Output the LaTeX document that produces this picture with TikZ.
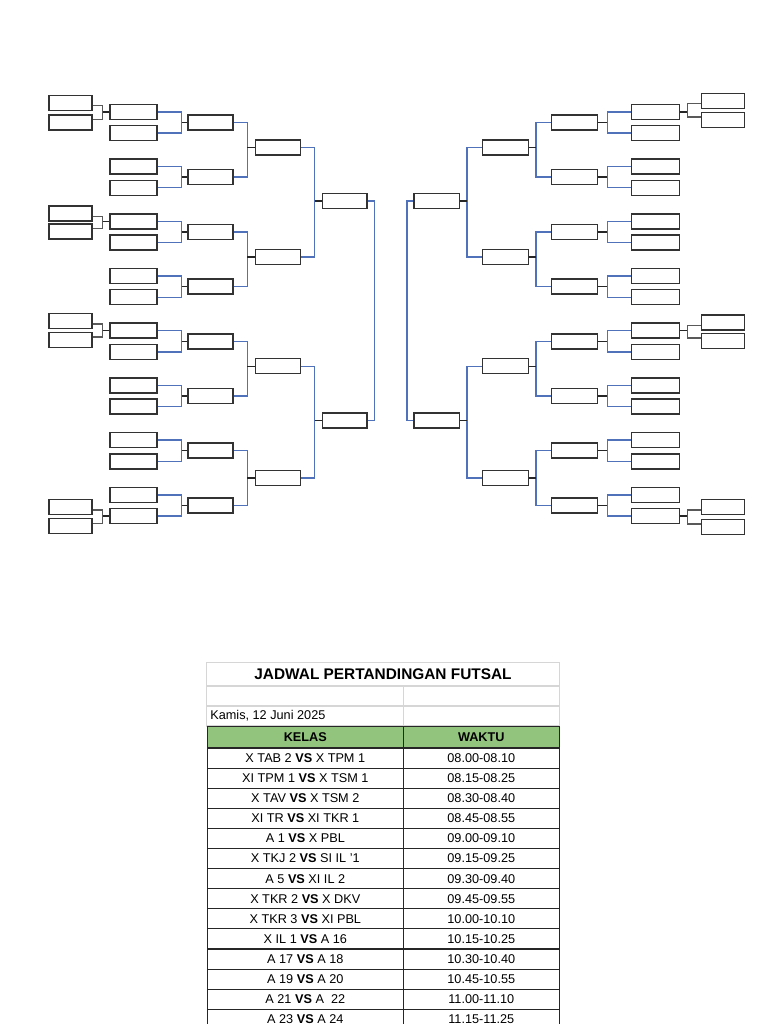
\documentclass[tikz,border=0pt]{standalone}
\usepackage{fontspec}
\setmainfont{Liberation Sans}
\usetikzlibrary{calc}
\definecolor{linkblue}{HTML}{4F72BA}
\definecolor{headgreen}{HTML}{93C47D}
\definecolor{gridgray}{HTML}{D6D6D6}
\tikzset{
  slot/.style={draw=black!80,line width=1.5pt,minimum height=15pt,inner sep=0pt},
  arm/.style={draw=linkblue,line width=1.4pt},
  stub/.style={draw=black!85,line width=1.4pt},
  prearm/.style={draw=black!65,line width=1.4pt},
  tabfont/.style={font=\fontsize{12.7}{14}\selectfont},
  cell/.style={tabfont,draw=black!85,line width=1.1pt,minimum height=20.1pt,inner sep=0pt},
  graycell/.style={tabfont,draw=gridgray,line width=1.1pt,minimum height=20pt,inner sep=0pt},
  headcell/.style={cell,fill=headgreen,minimum height=21.7pt,font=\fontsize{12.7}{14}\selectfont\bfseries}
}

\begin{document}
\begin{tikzpicture}[x=1pt,y=-1pt]
  \clip (0,0) rectangle (768,1024);
  \fill[white] (0,0) rectangle (768,1024);

  % first and second round, both halves
  \foreach \k in {0,...,7}{
    \pgfmathsetmacro\yc{122.5+54.7*\k}
    \node[slot,minimum width=47pt] (L1a-\k) at (133.6,\yc-10.6) {};
    \node[slot,minimum width=47pt] (L1b-\k) at (133.6,\yc+10.6) {};
    \node[slot,minimum width=45pt] (L2-\k) at (210.5,\yc) {};
    \coordinate (LF1-\k) at (181.7,\yc);
    \draw[arm] (L1a-\k.east) -| (LF1-\k) |- (L1b-\k.east);
    \draw[stub] (LF1-\k) -- (L2-\k.west);
    \node[slot,minimum width=47.6pt] (R1a-\k) at (655.5,\yc-10.6) {};
    \node[slot,minimum width=47.6pt] (R1b-\k) at (655.5,\yc+10.6) {};
    \node[slot,minimum width=45.8pt] (R2-\k) at (574.6,\yc) {};
    \coordinate (RF1-\k) at (607.3,\yc);
    \draw[arm] (R1a-\k.west) -| (RF1-\k) |- (R1b-\k.west);
    \draw[stub] (RF1-\k) -- (R2-\k.east);
  }

  % third round
  \foreach \y [count=\j from 0] in {147.5,257,366.2,477.8}{
    \pgfmathtruncatemacro\ta{2*\j}
    \pgfmathtruncatemacro\tb{2*\j+1}
    \node[slot,minimum width=45pt] (L3-\j) at (278,\y) {};
    \coordinate (LF2-\j) at (247.3,\y);
    \draw[arm] (L2-\ta.east) -| (LF2-\j) |- (L2-\tb.east);
    \draw[stub] (LF2-\j) -- (L3-\j.west);
    \node[slot,minimum width=46pt] (R3-\j) at (505.7,\y) {};
    \coordinate (RF2-\j) at (536,\y);
    \draw[arm] (R2-\ta.west) -| (RF2-\j) |- (R2-\tb.west);
    \draw[stub] (RF2-\j) -- (R3-\j.east);
  }

  % semifinals
  \foreach \y [count=\j from 0] in {201,420.5}{
    \pgfmathtruncatemacro\ta{2*\j}
    \pgfmathtruncatemacro\tb{2*\j+1}
    \node[slot,minimum width=44.5pt] (L4-\j) at (344.5,\y) {};
    \coordinate (LF3-\j) at (314.5,\y);
    \draw[arm] (L3-\ta.east) -| (LF3-\j) |- (L3-\tb.east);
    \draw[stub] (LF3-\j) -- (L4-\j.west);
    \node[slot,minimum width=45.5pt] (R4-\j) at (436.5,\y) {};
    \coordinate (RF3-\j) at (467,\y);
    \draw[arm] (R3-\ta.west) -| (RF3-\j) |- (R3-\tb.west);
    \draw[stub] (RF3-\j) -- (R4-\j.east);
  }
  \coordinate (LF4) at (374.5,310);
  \draw[arm] (L4-0.east) -| (LF4) |- (L4-1.east);
  \coordinate (RF4) at (407,310);
  \draw[arm] (R4-0.west) -| (RF4) |- (R4-1.west);

  % preliminary pairs
  \foreach \tgt/\ya/\yb [count=\n] in {L1a-0/102.8/122.3,L1a-2/213.3/231.6,L1a-4/320.8/340,L1b-7/506.8/526.2}{
    \node[slot,minimum width=43pt] (PLa-\n) at (70.3,\ya) {};
    \node[slot,minimum width=43pt] (PLb-\n) at (70.3,\yb) {};
    \path (\tgt.west) ++(-6.7,0) coordinate (PLf-\n);
    \draw[prearm] ($(PLa-\n.east)+(0,3)$) -| (PLf-\n) |- ($(PLb-\n.east)+(0,-3)$);
    \draw[stub] (PLf-\n) -- (\tgt.west);
  }
  \foreach \tgt/\ya/\yb [count=\n] in {R1a-0/100.8/120.2,R1a-4/322.5/340.8,R1b-7/506.8/526.8}{
    \node[slot,minimum width=42.6pt] (PRa-\n) at (723,\ya) {};
    \node[slot,minimum width=42.6pt] (PRb-\n) at (723,\yb) {};
    \path (\tgt.east) ++(7.4,0) coordinate (PRf-\n);
    \draw[prearm] ($(PRa-\n.west)+(0,3)$) -| (PRf-\n) |- ($(PRb-\n.west)+(0,-3)$);
    \draw[stub] (PRf-\n) -- (\tgt.east);
  }

  % schedule table
  \node[graycell,minimum width=352.6pt,minimum height=23.7pt,font=\fontsize{15.4}{17}\selectfont\bfseries] (judul) at (383,674.2) {JADWAL PERTANDINGAN FUTSAL};
  \node[graycell,minimum width=196.6pt] (kosongA) at (305,696) {};
  \node[graycell,minimum width=156pt] (kosongB) at (481.3,696) {};
  \node[graycell,minimum width=196.6pt] (tanggal) at (305,716) {};
  \node[graycell,minimum width=156pt] (tanggalB) at (481.3,716) {};
  \node[tabfont,anchor=west,inner xsep=4pt,inner ysep=0pt] (tanggalteks) at (tanggal.west) {Kamis, 12 Juni 2025};
  \node[headcell,minimum width=196pt] (kelas) at (305.3,737) {KELAS};
  \node[headcell,minimum width=156pt] (waktu) at (481.3,737) {WAKTU};
  \foreach \tim/\jam [count=\i] in {
      X TAB 2 \textbf{VS} X TPM 1/08.00-08.10,
      XI TPM 1 \textbf{VS} X TSM 1/08.15-08.25,
      X TAV \textbf{VS} X TSM 2/08.30-08.40,
      XI TR \textbf{VS} XI TKR 1/08.45-08.55,
      A 1 \textbf{VS} X PBL/09.00-09.10,
      X TKJ 2 \textbf{VS} SI IL '1/09.15-09.25,
      A 5 \textbf{VS} XI IL 2/09.30-09.40,
      X TKR 2 \textbf{VS} X DKV/09.45-09.55,
      X TKR 3 \textbf{VS} XI PBL/10.00-10.10,
      X IL 1 \textbf{VS} A 16/10.15-10.25,
      A 17 \textbf{VS} A 18/10.30-10.40,
      A 19 \textbf{VS} A 20/10.45-10.55,
      A 21 \textbf{VS} A\ \ 22/11.00-11.10,
      A 23 \textbf{VS} A 24/11.15-11.25}{
    \node[cell,minimum width=196pt] (tim-\i) at (305.3,{748+20.1*(\i-0.5)}) {\tim};
    \node[cell,minimum width=156pt] (jam-\i) at (481.3,{748+20.1*(\i-0.5)}) {\jam};
  }
\end{tikzpicture}
\end{document}
